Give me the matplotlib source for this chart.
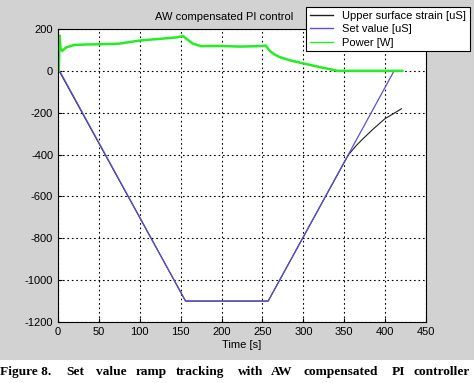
import matplotlib
matplotlib.use('Agg')
import matplotlib.pyplot as plt
from matplotlib.patches import Rectangle

# Set value ramp [uS]
t_set = [0, 2, 156, 257, 411]
set_val = [0, 0, -1100, -1100, 0]

# Upper surface strain [uS] - follows set value until saturation
t_strain = [0, 2, 156, 257, 355, 364, 373, 386, 400, 410, 420]
strain = [0, -5, -1100, -1100, -402, -360, -324, -276, -228, -205, -181]

# Power [W]
t_pow = [0, 1, 2, 3, 5, 10, 20, 35, 50, 75, 100, 125, 145, 153, 158, 165,
         175, 200, 222, 245, 254, 259, 265, 271, 284, 296, 310, 320, 330,
         336, 342, 380, 421]
power = [0, 0, 168, 110, 95, 112, 124, 126, 127, 130, 145, 153, 160, 166,
         150, 130, 118, 119, 116, 118, 121, 95, 78, 66, 50, 39, 27, 18, 10,
         5, 0, 0, 0]

x_ticks = list(range(0, 451, 50))
y_ticks = list(range(-1200, 201, 200))

# caption words and their left edges in pixels (justified text)
caption_words = ['Figure 8.', 'Set', 'value', 'ramp', 'tracking', 'with',
                 'AW', 'compensated', 'PI', 'controller']
caption_x = [0, 66, 96, 136, 176, 238, 271, 303, 392, 413]

plt.rcParams['font.family'] = ['Liberation Sans', 'DejaVu Sans']
plt.rcParams['axes.unicode_minus'] = False

fig = plt.figure(figsize=(4.74, 3.83), dpi=100)
fig.patch.set_facecolor('white')
# grey MATLAB figure area
fig.patches.append(Rectangle((0, 1 - 360 / 383), 1, 360 / 383,
                             transform=fig.transFigure, facecolor='#d2d2d2',
                             edgecolor='none', zorder=-10))

ax = fig.add_axes([58 / 474, 1 - 322 / 383, 368 / 474, 293 / 383])
ax.set_facecolor('white')

ax.plot(t_strain, strain, color='#202020', lw=0.8, label='Upper surface strain [uS]')
ax.plot(t_set, set_val, color='#5a4fd6', lw=0.9, label='Set value [uS]')
ax.plot(t_pow, power, color='#22ee22', lw=1.8, label='Power [W]')

ax.set_xlim(0, 450)
ax.set_ylim(-1200, 200)
ax.set_xticks(x_ticks)
ax.set_yticks(y_ticks)
ax.tick_params(direction='in', labelsize=8, length=3, colors='black')
ax.grid(True, color='black', linestyle=(0, (1.5, 2.5)), linewidth=0.8)
for s in ax.spines.values():
    s.set_linewidth(0.8)

ax.set_xlabel('Time [s]', fontsize=8, labelpad=2)
fig.text(224 / 474, 1 - 17 / 383, 'AW compensated PI control', fontsize=8,
         ha='center', va='center')

leg = ax.legend(loc='upper right', bbox_to_anchor=(470 / 474, 1 - 7 / 383),
                bbox_transform=fig.transFigure, fontsize=8, fancybox=False,
                framealpha=1, edgecolor='black', handlelength=2.1,
                labelspacing=0.3, borderpad=0.35, handletextpad=0.8,
                borderaxespad=0)
leg.get_frame().set_linewidth(0.8)
for line in leg.get_lines():
    line.set_linewidth(1.0)

for word, px in zip(caption_words, caption_x):
    fig.text(px / 474, 1 - 366 / 383, word, fontfamily='Liberation Serif',
             fontweight='bold', fontsize=9.6, ha='left', va='top')

fig.savefig('out.png', dpi=100)
